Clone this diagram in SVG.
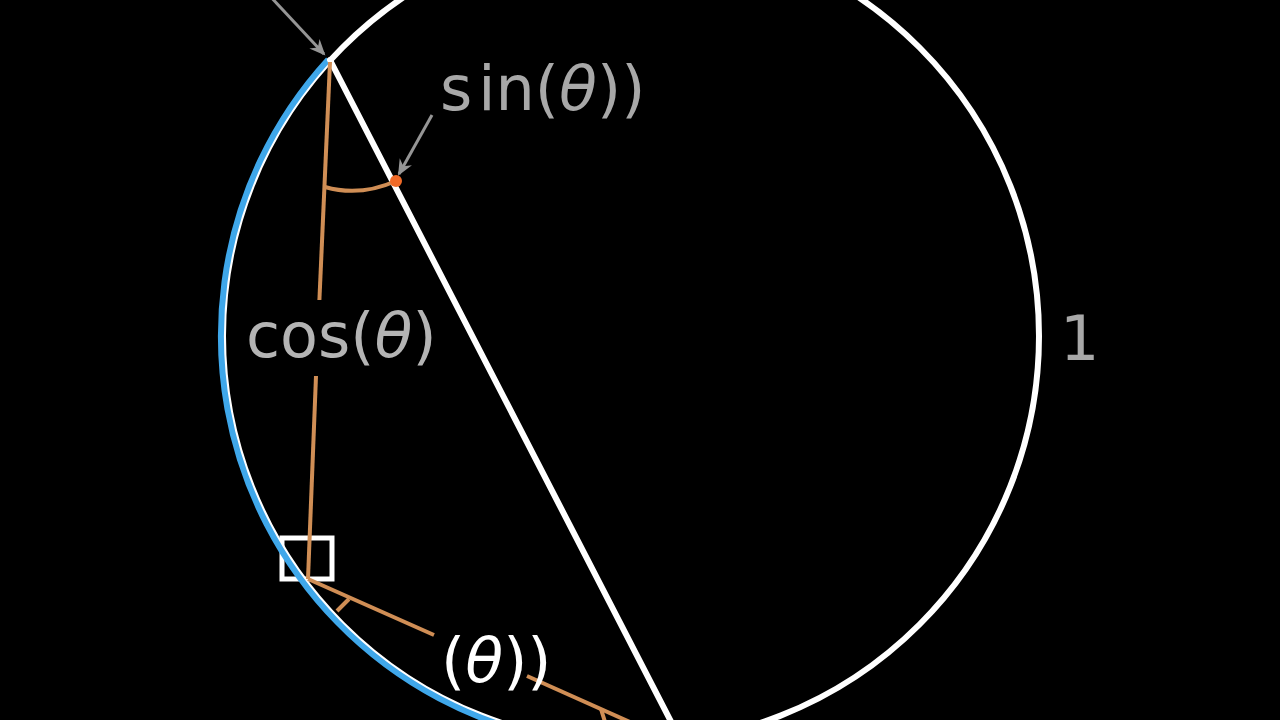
<svg xmlns="http://www.w3.org/2000/svg" width="1280" height="720" viewBox="0 0 1280 720">
<defs>
<style>
.lbl{font-family:"DejaVu Sans","Liberation Sans",sans-serif;font-size:62px}
.th{font-style:italic}
.wline{stroke:#ffffff;stroke-width:6;fill:none;stroke-linecap:round}
.oline{stroke:#d08e55;stroke-width:4;fill:none;stroke-linecap:butt}
.gline{stroke:#959595;stroke-width:3;fill:none}
</style>
<marker id="ah" markerUnits="userSpaceOnUse" markerWidth="20" markerHeight="20" refX="14" refY="8" orient="auto">
<path d="M0,1 L16,8 L0,15 L5,8 Z" fill="#959595"/>
</marker>
</defs>
<rect width="1280" height="720" fill="#000000"/>
<g id="circle">
<circle cx="631" cy="336" r="408" class="wline"/>
</g>
<g id="right-angle">
<rect x="282" y="538" width="50" height="41" fill="none" stroke="#ffffff" stroke-width="5"/>
</g>
<g id="blue-arc">
<path d="M328.3,59.4 A410,410 0 0 0 680.6,743" fill="none" stroke="#3fa7ea" stroke-width="6"/>
</g>
<g id="chord">
<line x1="330" y1="60" x2="681" y2="741" class="wline"/>
</g>
<g id="connectors">
<line x1="330" y1="62" x2="319.4" y2="300" class="oline"/>
<line x1="316" y1="376" x2="308" y2="579" class="oline"/>
<line x1="308" y1="579" x2="434" y2="635" class="oline"/>
<line x1="527" y1="676" x2="650" y2="731" class="oline"/>
<line x1="337" y1="611" x2="349" y2="599" class="oline"/>
<line x1="601" y1="709" x2="605" y2="722" class="oline"/>
<path d="M325,187 Q360,197 396,181" class="oline"/>
<line x1="268" y1="-6" x2="324" y2="54" class="gline" marker-end="url(#ah)"/>
<line x1="432" y1="115" x2="399" y2="174" class="gline" marker-end="url(#ah)"/>
</g>
<g id="dot">
<circle cx="396" cy="181" r="6" fill="#f06a28"/>
</g>
<g id="label-sin">
<text x="440" y="110" class="lbl" fill="#a8a8a8">s<tspan dx="6">in(</tspan><tspan class="th">θ</tspan>))</text>
</g>
<g id="label-cos">
<text x="246" y="357" class="lbl" fill="#b4b4b4">cos(<tspan class="th">θ</tspan>)</text>
</g>
<g id="label-theta">
<text x="441" y="682" class="lbl" fill="#ffffff">(<tspan class="th">θ</tspan>))</text>
</g>
<g id="label-one">
<text x="1060" y="360" class="lbl" fill="#a8a8a8">1</text>
</g>
</svg>
